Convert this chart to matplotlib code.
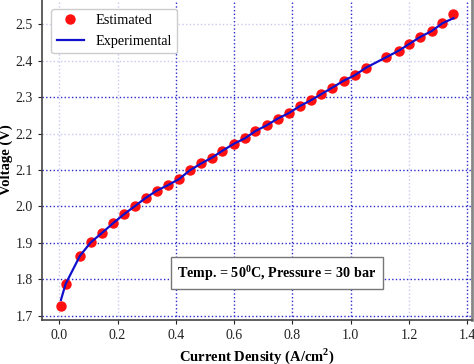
import matplotlib as mpl

mpl.use('Agg')

import matplotlib.pyplot as plt
import numpy as np

plt.rcParams['font.family'] = ['Liberation Serif', 'DejaVu Serif']
plt.rcParams['mathtext.fontset'] = 'custom'
plt.rcParams['mathtext.rm'] = 'Liberation Serif'
plt.rcParams['mathtext.bf'] = 'Liberation Serif:bold'

# Current density (A/cm^2) and voltage (V)
current = [0.006, 0.022, 0.071, 0.108, 0.148, 0.185, 0.223, 0.260, 0.296, 0.334,
           0.372, 0.411, 0.448, 0.487, 0.524, 0.560, 0.599, 0.637, 0.673, 0.712,
           0.749, 0.787, 0.826, 0.862, 0.898, 0.936, 0.975, 1.013, 1.052, 1.122,
           1.165, 1.200, 1.237, 1.278, 1.314, 1.352]
v_estimated = [1.727, 1.787, 1.864, 1.901, 1.928, 1.954, 1.979, 2.001, 2.023, 2.043,
               2.058, 2.075, 2.099, 2.118, 2.134, 2.153, 2.172, 2.187, 2.207, 2.223,
               2.241, 2.256, 2.276, 2.291, 2.308, 2.326, 2.345, 2.360, 2.381, 2.410,
               2.428, 2.446, 2.465, 2.482, 2.503, 2.529]
v_experimental = [1.743, 1.787, 1.864, 1.901, 1.928, 1.954, 1.979, 2.001, 2.023, 2.043,
                  2.058, 2.075, 2.099, 2.118, 2.134, 2.153, 2.172, 2.187, 2.207, 2.223,
                  2.241, 2.256, 2.276, 2.291, 2.308, 2.326, 2.345, 2.360, 2.381, 2.410,
                  2.428, 2.446, 2.465, 2.482, 2.503, 2.517]

x_ticks = [0.0, 0.2, 0.4, 0.6, 0.8, 1.0, 1.2, 1.4]
y_ticks = [1.7, 1.8, 1.9, 2.0, 2.1, 2.2, 2.3, 2.4, 2.5]

fig = plt.figure(figsize=(4.74, 3.64), dpi=100)
ax = fig.add_axes([0.088, 0.121, 0.908, 0.879])

ax.plot(current, v_estimated, 'o', color='#ff1010', markersize=6.5,
        label='Estimated', zorder=3)
ax.plot(current, v_experimental, '-', color='#1010cc', linewidth=1.6,
        label='Experimental', zorder=4)

ax.set_xlim(-0.060, 1.416)
ax.set_ylim(1.688, 2.567)
ax.set_xticks(x_ticks)
ax.set_yticks(y_ticks)
ax.tick_params(direction='out', length=3, labelsize=10, colors='#222222')

# dotted grid, some lines come out fainter in the original image
ax.grid(True, color='#2a2acc', linestyle=':', linewidth=1.0)
faint_x = [0.0, 0.2, 1.2]
faint_y = [2.2, 2.4, 2.5]
for val, gl in zip(x_ticks, ax.get_xgridlines()):
    if val in faint_x:
        gl.set_color('#c8c8f0')
for val, gl in zip(y_ticks, ax.get_ygridlines()):
    if val in faint_y:
        gl.set_color('#c8c8f0')

for side in ['left', 'bottom']:
    ax.spines[side].set_color('#444444')
    ax.spines[side].set_linewidth(1.2)
ax.spines['right'].set_color('#888888')
ax.spines['right'].set_linewidth(2)
ax.spines['top'].set_visible(False)

ax.set_xlabel('Current Density (A/cm$^\\mathbf{2}$)', fontsize=10.5,
              fontweight='bold', labelpad=3)
ax.set_ylabel('Voltage (V)', fontsize=10.5, fontweight='bold', labelpad=2)

ax.legend(loc='upper left', bbox_to_anchor=(0.005, 0.995), numpoints=1,
          fontsize=10.3, handlelength=1.9, framealpha=1, edgecolor='#cccccc')

ax.text(0.746, 1.817, 'Temp. = 50$^\\mathbf{0}$C, Pressure = 30 bar',
        fontsize=10.2, fontweight='bold', ha='center', va='center', zorder=5,
        bbox=dict(boxstyle='square,pad=0.45', facecolor='white',
                  edgecolor='#777777', linewidth=1))

plt.savefig('out.png', dpi=100)
